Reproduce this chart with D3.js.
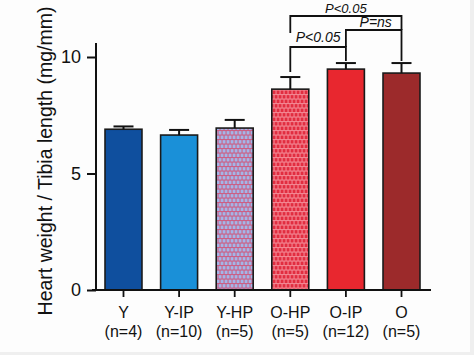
<!DOCTYPE html>
<html><head><meta charset="utf-8">
<script src="https://cdn.jsdelivr.net/npm/d3@7"></script>
<style>body{margin:0;background:#fff}svg{display:block}</style>
</head><body>
<svg id="c" width="474" height="355"></svg>
<script>
const categories = ["Y","Y-IP","Y-HP","O-HP","O-IP","O"];
const nLabels = ["(n=4)","(n=10)","(n=5)","(n=5)","(n=12)","(n=5)"];
const means = [6.9, 6.65, 6.95, 8.62, 9.48, 9.31];
const errUpper = [7.02, 6.87, 7.3, 9.14, 9.74, 9.74];
const yTicks = [0, 5, 10];
const fills = ["#0f4f9e", "#1a90d8", "url(#patBlue)", "url(#patRed)", "#e8272f", "#9c2a2b"];
const brackets = [["O-HP","O-IP","P<0.05"],["O-IP","O","P=ns"],["O-HP","O","P<0.05"]];

const svg = d3.select("#c");
svg.append("rect").attr("width",474).attr("height",355).attr("fill","#efefef");
svg.append("rect").attr("width",470).attr("height",352).attr("fill","#fdfdfd");

const defs = svg.append("defs");
function brick(id, bg, sq){
  const p = defs.append("pattern").attr("id",id).attr("patternUnits","userSpaceOnUse")
    .attr("width",8).attr("height",9);
  p.append("rect").attr("width",8).attr("height",9).attr("fill",bg);
  [[0.6,0.6],[4.6,0.6],[2.6,5.1],[6.6,5.1],[-1.4,5.1]].forEach(([x,y])=>{
    p.append("rect").attr("x",x).attr("y",y).attr("width",2.9).attr("height",3.4).attr("fill",sq);
  });
}
brick("patBlue","#cc5f84","#a3b6e8");
brick("patRed","#f38692","#e22d40");

const x = d3.scaleBand().domain(categories).range([96,429]).paddingInner(0.335).paddingOuter(0.162);
const y = d3.scaleLinear().domain([0,10]).range([290,57]);
const cx = c => x(c) + x.bandwidth()/2;

svg.append("g").selectAll("rect").data(categories).join("rect")
  .attr("x", c => x(c)).attr("width", x.bandwidth())
  .attr("y", (c,i) => y(means[i])).attr("height", (c,i) => y(0)-y(means[i]))
  .attr("fill", (c,i) => fills[i]).attr("stroke","#1a1a1a").attr("stroke-width",1.6);

const eg = svg.append("g").attr("stroke","#111").attr("stroke-width",2);
categories.forEach((c,i)=>{
  eg.append("line").attr("x1",cx(c)).attr("x2",cx(c)).attr("y1",y(means[i])).attr("y2",y(errUpper[i]));
  eg.append("line").attr("x1",cx(c)-10).attr("x2",cx(c)+10).attr("y1",y(errUpper[i])).attr("y2",y(errUpper[i]));
});

const yAxis = d3.axisLeft(y).tickValues(yTicks).tickSize(9).tickPadding(6);
const gy = svg.append("g").attr("transform","translate(96,0)").call(yAxis);
gy.select(".domain").remove();
gy.append("line").attr("x1",0).attr("x2",0).attr("y1",y(0)+1).attr("y2",y(10.6)).attr("stroke","#111").attr("stroke-width",2);
gy.selectAll(".tick line").attr("stroke","#111").attr("stroke-width",2);
gy.selectAll(".tick text").attr("font-family","Liberation Sans, Arial, sans-serif").attr("font-size",18).attr("fill","#111");

const xAxis = d3.axisBottom(x).tickSize(7).tickFormat("");
const gx = svg.append("g").attr("transform",`translate(0,${y(0)})`).call(xAxis);
gx.select(".domain").remove();
gx.append("line").attr("x1",92).attr("x2",431).attr("y1",0).attr("y2",0).attr("stroke","#111").attr("stroke-width",2);
gx.selectAll(".tick line").attr("stroke","#111").attr("stroke-width",1.8);

const lab = svg.append("g").attr("font-family","Liberation Sans, Arial, sans-serif").attr("font-size",16).attr("fill","#111").attr("text-anchor","middle");
categories.forEach((c,i)=>{
  lab.append("text").attr("x",cx(c)).attr("y",318).text(c);
  lab.append("text").attr("x",cx(c)).attr("y",337).text(nLabels[i]);
});

svg.append("text").attr("transform","translate(52,161) rotate(-90)")
  .attr("text-anchor","middle").attr("font-family","Liberation Sans, Arial, sans-serif")
  .attr("font-size",19.5).attr("fill","#111").text("Heart weight / Tibia length (mg/mm)");

const bg = svg.append("g").attr("fill","none").attr("stroke","#111").attr("stroke-width",1.8);
const tg = svg.append("g").attr("font-family","Liberation Sans, Arial, sans-serif").attr("font-style","italic")
  .attr("font-size",14).attr("fill","#111").attr("text-anchor","middle");
const a = cx("O-HP"), b = cx("O-IP"), c2 = cx("O");
bg.append("path").attr("d",`M${a},${y(errUpper[3])-5}V47H${b}V${y(errUpper[4])-2}`);
bg.append("path").attr("d",`M${b},47V30H${c2}V${y(errUpper[5])-2}`);
bg.append("path").attr("d",`M${a},33V16H${c2}V30`);
tg.append("text").attr("x",(a+b)/2).attr("y",42).text(brackets[0][2]);
tg.append("text").attr("x",(b+c2)/2+2).attr("y",26.5).text(brackets[1][2]);
tg.append("text").attr("x",(a+c2)/2).attr("y",13).attr("font-size",13).text(brackets[2][2]);
</script>
</body></html>
